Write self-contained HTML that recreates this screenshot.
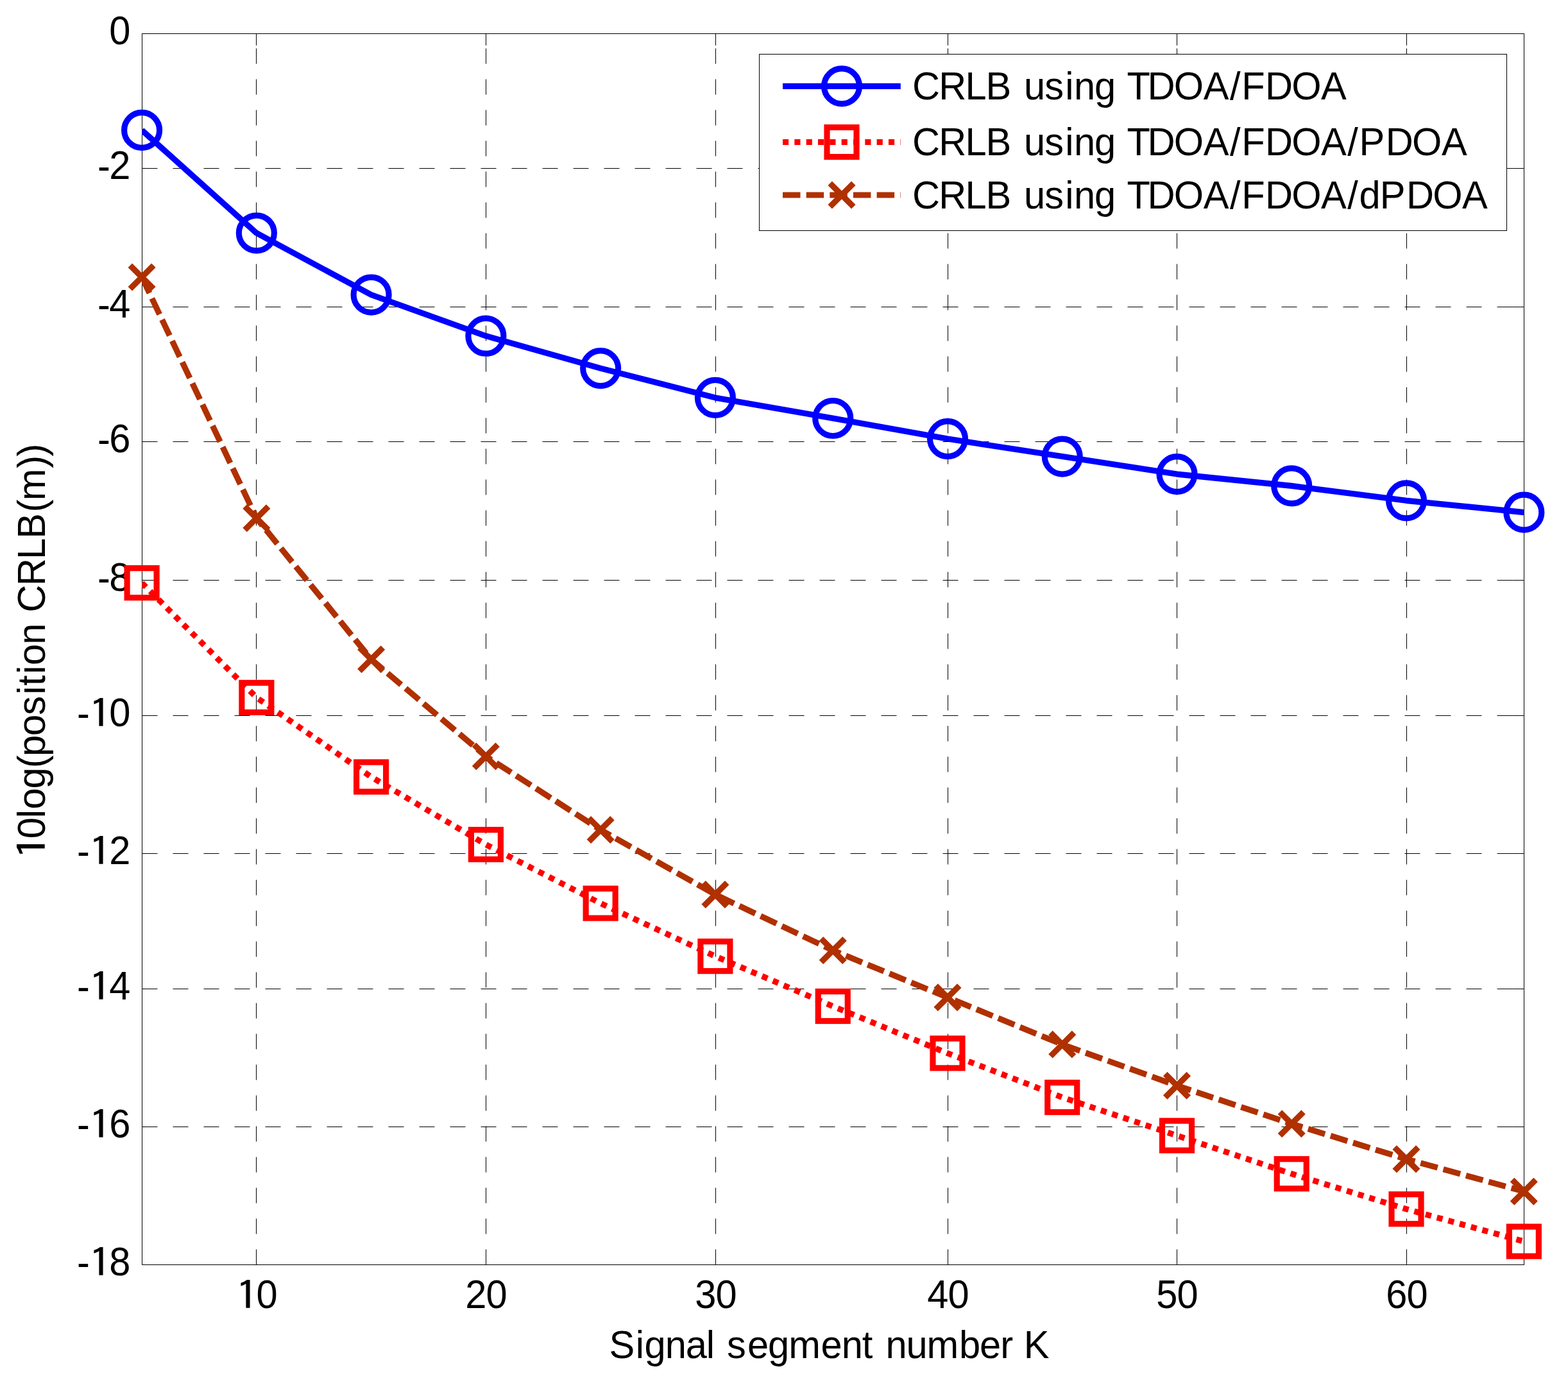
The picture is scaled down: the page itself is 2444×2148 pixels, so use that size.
<!DOCTYPE html>
<html lang="en"><head><meta charset="utf-8"><title>CRLB versus signal segment number K</title>
<style>html,body{margin:0;padding:0;background:#fff}body{width:2444px;height:2148px;overflow:hidden}svg{display:block}text{font-family:"Liberation Sans",sans-serif;font-size:59.6px;fill:#000;white-space:pre}</style></head><body>
<svg width="2444" height="2148" viewBox="0 0 2444 2148">
<rect width="2444" height="2148" fill="#fff"/>
<defs><clipPath id="ax"><rect x="221.1" y="52.5" width="2154.4" height="1919"/></clipPath></defs>
<g stroke="#000" stroke-width="1" fill="none" stroke-dasharray="24 24"><path d="M221.5 262.5H2375.5"/><path d="M221.5 478.5H2375.5"/><path d="M221.5 688.5H2375.5"/><path d="M221.5 904.5H2375.5"/><path d="M221.5 1115.5H2375.5"/><path d="M221.5 1330.5H2375.5"/><path d="M221.5 1541.5H2375.5"/><path d="M221.5 1756.5H2375.5"/><path d="M399.5 1971.5V52.5"/><path d="M757.5 1971.5V52.5"/><path d="M1115.5 1971.5V52.5"/><path d="M1477.5 1971.5V52.5"/><path d="M1834.5 1971.5V52.5"/><path d="M2192.5 1971.5V52.5"/></g>
<g stroke="#000" stroke-width="1" fill="none"><path d="M221.5 262.5h18.3M2375.5 262.5h-18.3M221.5 478.5h18.3M2375.5 478.5h-18.3M221.5 688.5h18.3M2375.5 688.5h-18.3M221.5 904.5h18.3M2375.5 904.5h-18.3M221.5 1115.5h18.3M2375.5 1115.5h-18.3M221.5 1330.5h18.3M2375.5 1330.5h-18.3M221.5 1541.5h18.3M2375.5 1541.5h-18.3M221.5 1756.5h18.3M2375.5 1756.5h-18.3M399.5 1971.5v-18.3M399.5 52.5v18.3M757.5 1971.5v-18.3M757.5 52.5v18.3M1115.5 1971.5v-18.3M1115.5 52.5v18.3M1477.5 1971.5v-18.3M1477.5 52.5v18.3M1834.5 1971.5v-18.3M1834.5 52.5v18.3M2192.5 1971.5v-18.3M2192.5 52.5v18.3"/><rect x="221.5" y="52.5" width="2154" height="1919"/></g>
<g>
<text transform="translate(170.32 68.6) scale(1 1.055)" x="0" y="0">0</text>
<text transform="translate(151.98 278.6) scale(1 1.055)" x="0 18.33" y="1 0">-2</text>
<text transform="translate(151.98 494.6) scale(1 1.055)" x="0 18.33" y="1 0">-4</text>
<text transform="translate(151.98 704.6) scale(1 1.055)" x="0 18.33" y="1 0">-6</text>
<text transform="translate(151.98 920.6) scale(1 1.055)" x="0 18.33" y="1 0">-8</text>
<text transform="translate(119.9 1131.6) scale(1 1.055)" x="0 17.63 50.42" y="1 2.96 0">-<tspan font-family="IPAGothic,'Liberation Sans',sans-serif" font-size="58.21" textLength="37.84" lengthAdjust="spacingAndGlyphs">1</tspan>0</text>
<text transform="translate(119.9 1346.6) scale(1 1.055)" x="0 17.63 50.42" y="1 2.96 0">-<tspan font-family="IPAGothic,'Liberation Sans',sans-serif" font-size="58.21" textLength="37.84" lengthAdjust="spacingAndGlyphs">1</tspan>2</text>
<text transform="translate(119.9 1557.6) scale(1 1.055)" x="0 17.63 50.42" y="1 2.96 0">-<tspan font-family="IPAGothic,'Liberation Sans',sans-serif" font-size="58.21" textLength="37.84" lengthAdjust="spacingAndGlyphs">1</tspan>4</text>
<text transform="translate(119.9 1772.6) scale(1 1.055)" x="0 17.63 50.42" y="1 2.96 0">-<tspan font-family="IPAGothic,'Liberation Sans',sans-serif" font-size="58.21" textLength="37.84" lengthAdjust="spacingAndGlyphs">1</tspan>6</text>
<text transform="translate(119.9 1987.6) scale(1 1.055)" x="0 17.63 50.42" y="1 2.96 0">-<tspan font-family="IPAGothic,'Liberation Sans',sans-serif" font-size="58.21" textLength="37.84" lengthAdjust="spacingAndGlyphs">1</tspan>8</text>
<text transform="translate(367.32 2038.6) scale(1 1.055)" x="-0.7 32.08" y="2.96 0"><tspan font-family="IPAGothic,'Liberation Sans',sans-serif" font-size="58.21" textLength="37.84" lengthAdjust="spacingAndGlyphs">1</tspan>0</text>
<text transform="translate(725.32 2038.6) scale(1 1.055)" x="0 32.08" y="0">20</text>
<text transform="translate(1083.32 2038.6) scale(1 1.055)" x="0 32.08" y="0">30</text>
<text transform="translate(1445.32 2038.6) scale(1 1.055)" x="0 32.08" y="0">40</text>
<text transform="translate(1802.32 2038.6) scale(1 1.055)" x="0 32.08" y="0">50</text>
<text transform="translate(2160.32 2038.6) scale(1 1.055)" x="0 32.08" y="0">60</text>
<text transform="translate(949.6 2116.6) scale(1 1.02)" x="0 41.25 55 87.08 119.17 151.25 165 183.33 215.42 247.5 279.58 330 362.08 394.16 412.5 430.83 462.91 495 545.41 577.5 609.58 627.91 646.25" y="0">Signal segment number K</text>
<text transform="translate(69.9 1339.4) rotate(-90) scale(1 1.02)" x="-0.7 32.08 64.17 77.92 110 142.08 160.42 192.5 224.58 256.66 270.41 288.75 302.5 334.58 366.66 385 426.25 467.5 499.58 540.83 559.16 609.58 627.91" y="3.06 0 0 0 0 0 0 0 0 0 0 0 0 0 0 0 0 0 0 0 0 0 0"><tspan font-family="IPAGothic,'Liberation Sans',sans-serif" font-size="60.21" textLength="39.13" lengthAdjust="spacingAndGlyphs">1</tspan>0log(position CRLB(m))</text>
</g>
<g stroke="#0000ff" stroke-width="9.17" fill="none"><path clip-path="url(#ax)" stroke-linejoin="bevel" d="M221.1 202.92L399.86 363.31L578.61 459.54L757.37 523.7L936.13 574.11L1114.88 619.93L1298.22 652.01L1476.98 684.09L1655.74 711.58L1834.49 739.07L2013.25 757.4L2192.01 780.32L2375.34 798.65"/><circle cx="221.1" cy="202.92" r="27.5"/><circle cx="399.86" cy="363.31" r="27.5"/><circle cx="578.61" cy="459.54" r="27.5"/><circle cx="757.37" cy="523.7" r="27.5"/><circle cx="936.13" cy="574.11" r="27.5"/><circle cx="1114.88" cy="619.93" r="27.5"/><circle cx="1298.22" cy="652.01" r="27.5"/><circle cx="1476.98" cy="684.09" r="27.5"/><circle cx="1655.74" cy="711.58" r="27.5"/><circle cx="1834.49" cy="739.07" r="27.5"/><circle cx="2013.25" cy="757.4" r="27.5"/><circle cx="2192.01" cy="780.32" r="27.5"/><circle cx="2375.34" cy="798.65" r="27.5"/></g>
<g stroke="#ff0000" stroke-width="9.17" fill="none"><path clip-path="url(#ax)" stroke-linejoin="bevel" d="M221.1 908.63L399.86 1087.35L578.61 1211.07L757.37 1316.47L936.13 1408.12L1114.88 1490.61L1298.22 1568.51L1476.98 1641.83L1655.74 1710.56L1834.49 1770.14L2013.25 1829.71L2192.01 1884.7L2375.34 1935.11" stroke-dasharray="9.164 9.164"/><rect x="198.1" y="885.63" width="46" height="46"/><rect x="376.86" y="1064.35" width="46" height="46"/><rect x="555.61" y="1188.07" width="46" height="46"/><rect x="734.37" y="1293.47" width="46" height="46"/><rect x="913.13" y="1385.12" width="46" height="46"/><rect x="1091.88" y="1467.61" width="46" height="46"/><rect x="1275.22" y="1545.51" width="46" height="46"/><rect x="1453.98" y="1618.83" width="46" height="46"/><rect x="1632.74" y="1687.56" width="46" height="46"/><rect x="1811.49" y="1747.14" width="46" height="46"/><rect x="1990.25" y="1806.71" width="46" height="46"/><rect x="2169.01" y="1861.7" width="46" height="46"/><rect x="2352.34" y="1912.11" width="46" height="46"/></g>
<g stroke="#b03000" stroke-width="9.17" fill="none"><path clip-path="url(#ax)" stroke-linejoin="bevel" d="M221.1 432.05L399.86 807.81L578.61 1027.77L757.37 1178.99L936.13 1293.56L1114.88 1394.37L1298.22 1481.44L1476.98 1554.76L1655.74 1628.08L1834.49 1692.23L2013.25 1751.81L2192.01 1806.8L2375.34 1857.2" stroke-dasharray="27.49 9.163"/><path d="M202.8 413.75l36.6 36.6M202.8 450.35l36.6 -36.6"/><path d="M381.56 789.51l36.6 36.6M381.56 826.11l36.6 -36.6"/><path d="M560.31 1009.47l36.6 36.6M560.31 1046.07l36.6 -36.6"/><path d="M739.07 1160.69l36.6 36.6M739.07 1197.29l36.6 -36.6"/><path d="M917.83 1275.26l36.6 36.6M917.83 1311.86l36.6 -36.6"/><path d="M1096.58 1376.07l36.6 36.6M1096.58 1412.67l36.6 -36.6"/><path d="M1279.92 1463.14l36.6 36.6M1279.92 1499.74l36.6 -36.6"/><path d="M1458.68 1536.46l36.6 36.6M1458.68 1573.06l36.6 -36.6"/><path d="M1637.44 1609.78l36.6 36.6M1637.44 1646.38l36.6 -36.6"/><path d="M1816.19 1673.93l36.6 36.6M1816.19 1710.53l36.6 -36.6"/><path d="M1994.95 1733.51l36.6 36.6M1994.95 1770.11l36.6 -36.6"/><path d="M2173.7 1788.5l36.6 36.6M2173.7 1825.1l36.6 -36.6"/><path d="M2357.04 1838.9l36.6 36.6M2357.04 1875.5l36.6 -36.6"/></g>
<rect x="1183.5" y="84.5" width="1165" height="275" fill="#fff" stroke="#000" stroke-width="1"/>
<g stroke="#0000ff" stroke-width="9.17" fill="none"><path d="M1220 134.4H1403.8"/><circle cx="1312" cy="134.4" r="27.5"/></g>
<text transform="translate(1421.9 155.3) scale(1 1.02)" x="0 41.25 82.5 114.58 155.83 174.17 206.25 238.33 252.08 284.16 316.25 334.58 366.66 407.91 453.75 495 513.33 550 591.25 637.08" y="0">CRLB using TDOA/FDOA</text>
<g stroke="#ff0000" stroke-width="9.17" fill="none"><path d="M1220 221.5H1403.8" stroke-dasharray="9.164 9.164"/><rect x="1289" y="198.5" width="46" height="46"/></g>
<text transform="translate(1421.9 242.4) scale(1 1.02)" x="0 41.25 82.5 114.58 155.83 174.17 206.25 238.33 252.08 284.16 316.25 334.58 366.66 407.91 453.75 495 513.33 550 591.25 637.08 678.33 696.66 737.91 779.16 824.99" y="0">CRLB using TDOA/FDOA/PDOA</text>
<g stroke="#b03000" stroke-width="9.17" fill="none"><path d="M1220 304H1403.8" stroke-dasharray="27.49 9.163"/><path d="M1293.7 285.7l36.6 36.6M1293.7 322.3l36.6 -36.6"/></g>
<text transform="translate(1421.9 324.9) scale(1 1.02)" x="0 41.25 82.5 114.58 155.83 174.17 206.25 238.33 252.08 284.16 316.25 334.58 366.66 407.91 453.75 495 513.33 550 591.25 637.08 678.33 696.66 728.74 769.99 811.24 857.08" y="0">CRLB using TDOA/FDOA/dPDOA</text>
</svg></body></html>
